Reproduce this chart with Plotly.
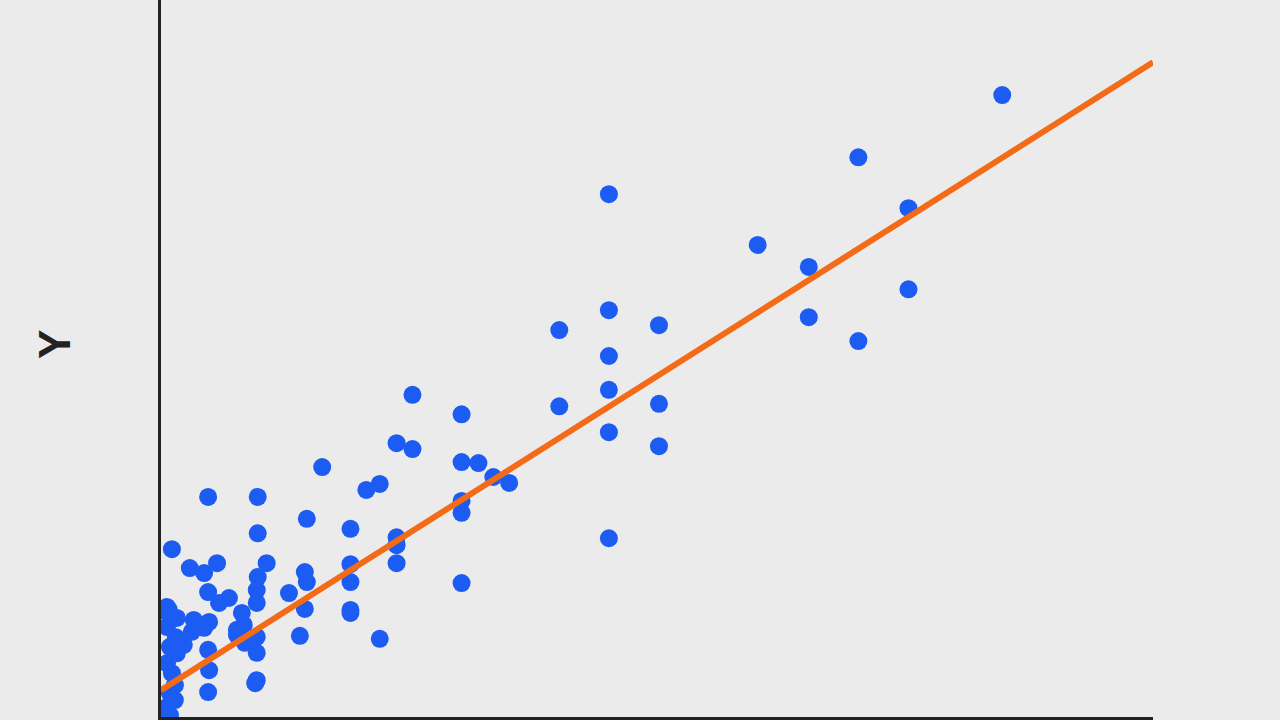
import plotly.graph_objects as go

# scatter points
x_vals = [
    16.96, 14.06, 9.03, 15.07, 12.03, 13.06, 15.07, 13.06, 14.06, 8.03,
    9.03, 10.04, 9.03, 9.03, 8.03, 10.04, 9.03, 10.04, 5.07, 6.06,
    4.75, 5.07, 6.06, 6.40, 3.25, 6.70, 7.02, 4.14, 4.41, 6.06,
    6.06, 9.03, 6.06, 2.94, 3.82, 4.75, 4.75, 4.75, 2.90, 2.94,
    3.82, 3.82, 2.58, 2.90, 3.82, 3.82, 2.80, 4.41,
    0.95, 1.95, 1.95, 0.22, 0.58, 0.87, 1.13, 2.13, 1.95, 1.93,
    1.93, 0.95, 1.37, 1.17, 1.63, 1.67, 0.16, 0.32, 0.66, 0.97,
    0.87, 0.12, 0.62, 0.95, 0.97, 0.95, 0.46, 0.18, 0.12, 0.22,
    0.18, 0.28, 0.12, 0.18, 1.53, 1.69, 1.93, 1.93, 1.90, 1.93,
    1.53, 0.12, 0.10, 0.32, 0.28, 0.30,
]
y_vals = [
    12.49, 11.24, 10.50, 10.22, 9.48, 9.04, 8.59, 8.03, 7.55, 7.77,
    8.17, 7.87, 7.25, 6.57, 6.24, 6.29, 5.72, 5.44, 6.47, 6.08,
    5.50, 5.38, 5.12, 5.10, 5.02, 4.82, 4.70, 4.56, 4.68, 4.34,
    4.10, 3.59, 2.69, 3.98, 3.78, 3.61, 3.45, 3.09, 2.91, 2.71,
    3.07, 2.71, 2.49, 2.17, 2.15, 2.09, 1.63, 1.57,
    4.42, 4.42, 3.69, 3.37, 2.99, 2.89, 3.09, 3.09, 2.81, 2.55,
    2.29, 2.51, 2.39, 2.29, 2.09, 1.85, 2.15, 1.99, 1.95, 1.91,
    1.79, 1.81, 1.71, 1.35, 0.94, 0.50, 1.45, 1.41, 1.08, 0.88,
    0.48, 0.34, 0.20, 0.04, 1.65, 1.49, 1.29, 0.74, 0.68, 1.61,
    1.75, 2.21, 2.12, 1.28, 0.64, 1.60,
]

# fitted line
fit_x = [0, 20]
fit_y = [0.54, 13.15]

fig = go.Figure()
fig.add_trace(go.Scatter(x=x_vals, y=y_vals, mode="markers",
                         marker=dict(size=18, color="#1d5cf3"),
                         showlegend=False))
fig.add_trace(go.Scatter(x=fit_x, y=fit_y, mode="lines",
                         line=dict(color="#f36a17", width=6),
                         showlegend=False))

axis_style = dict(showline=True, linecolor="#222222", linewidth=3,
                  showgrid=False, zeroline=False, showticklabels=False,
                  ticks="")
fig.update_xaxes(range=[0, 20], **axis_style)
fig.update_yaxes(range=[0, 14.4], **axis_style)

fig.add_annotation(text="<b>Y</b>", textangle=-90, showarrow=False,
                   xref="paper", yref="paper", x=-0.1068, y=0.519,
                   xanchor="center", yanchor="middle",
                   font=dict(family="Liberation Sans, Arial", size=44,
                             color="#222222"))

fig.update_layout(width=1280, height=720,
                  margin=dict(l=161, r=127, t=0, b=3),
                  paper_bgcolor="#ebebeb", plot_bgcolor="#ebebeb")

# page body has a default 8px margin, drop it so the chart fills the window
fig.write_html("out.html", config={"displayModeBar": False},
               post_script="document.body.style.margin='0';")
